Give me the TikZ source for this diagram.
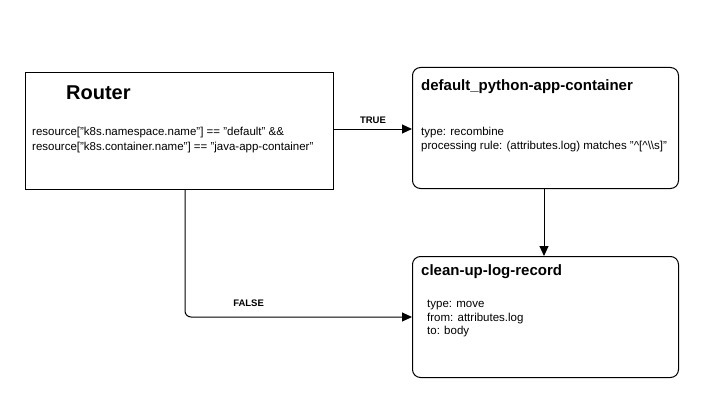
\documentclass[tikz,border=0pt]{standalone}
\usepackage{fontspec}
\setmainfont{Liberation Sans}
\usetikzlibrary{arrows.meta}
\begin{document}
\begin{tikzpicture}[x=1pt,y=-1pt,>={Triangle[length=10pt,width=9pt]},
  box/.style={draw,line width=1pt,anchor=north west},
  txt/.style={anchor=west,inner sep=0pt,font=\fontsize{11.5}{13}\selectfont},
  head/.style={anchor=west,inner sep=0pt,font=\bfseries\fontsize{15}{17}\selectfont},
  lbl/.style={inner sep=0pt,font=\bfseries\fontsize{9.5}{11}\selectfont}]

\useasboundingbox (0,0) rectangle (712,404);

\node[box,minimum width=308pt,minimum height=117pt] (router) at (25,72) {};
\node[head,font=\bfseries\fontsize{20}{23}\selectfont] (router_title) at (66,93) {Router};
\node[txt] (router_l1) at (32,133) {resource["k8s.namespace.name"] == "default" \&\&};
\node[txt] (router_l2) at (32,148) {resource["k8s.container.name"] == "java-app-container"};

\node[box,rounded corners=8pt,minimum width=266pt,minimum height=121pt] (python) at (412,67) {};
\node[head] (python_title) at (421,87) {default\_python-app-container};
\node[txt] (python_l1) at (421,133) {type: recombine};
\node[txt] (python_l2) at (421,147) {processing rule: (attributes.log) matches "\textasciicircum[\textasciicircum\textbackslash\textbackslash s]"};

\node[box,rounded corners=8pt,minimum width=266pt,minimum height=121pt] (cleanup) at (412,256) {};
\node[head] (cleanup_title) at (421,272) {clean-up-log-record};
\node[txt] (cleanup_l1) at (427,305) {type: move};
\node[txt] (cleanup_l2) at (427,319) {from: attributes.log};
\node[txt] (cleanup_l3) at (427,332) {to: body};

\coordinate (corner) at (185,317);
\draw [->,line width=1pt] (router.east |- 0,129) -- (python.west |- 0,129) node[lbl,midway,above=5pt] {TRUE};
\draw [->,line width=1pt] (python.south -| 544,0) -- (cleanup.north -| 544,0);
\draw [->,line width=1pt,rounded corners=6pt] (router.south -| corner) -- (corner) -- (cleanup.west |- corner) node[lbl,pos=0.28,above=10pt] {FALSE};

\end{tikzpicture}
\end{document}
